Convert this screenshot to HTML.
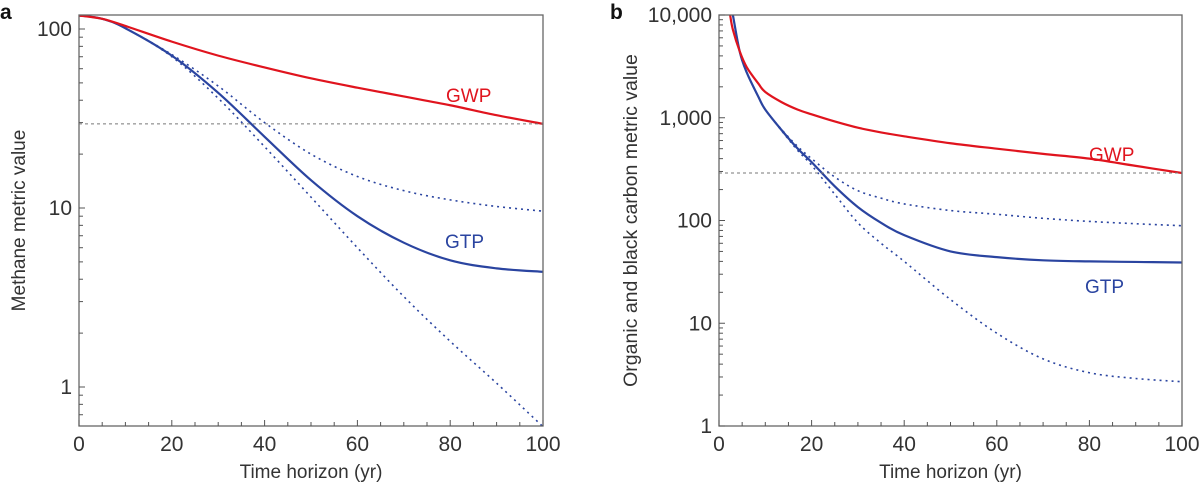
<!DOCTYPE html>
<html><head><meta charset="utf-8"><style>
body{margin:0;background:#fff;width:1200px;height:490px;overflow:hidden}
svg text{font-family:"Liberation Sans",sans-serif;fill:#333}
</style></head><body>
<svg id="c" width="1200" height="490"></svg>
<script>
// Panel a data (methane)
const aX=[0,5,10,20,30,40,50,60,70,80,90,100];
const aGWP=[119,114,104,85,71,61,53,47,42,37.5,33,29.5];
const aGTP=[119,114,101,71,44,25,14.3,9,6.4,5.1,4.6,4.4];
const aGTPhi=[119,114,101,72,48,30,20,15,12.5,11.1,10.2,9.6];
const aGTPlo=[119,114,101,70,41,22,11.5,6.0,3.2,1.8,1.05,0.6];
const aRef=29.5;
const aYTicks=[1,10,100];
// Panel b data (organic and black carbon)
const bX=[2.4,3,4.5,6,8.5,10,13.5,17,20,25,30,35,40,50,60,70,80,90,100];
const bGWP=[10000,7200,4400,3100,2150,1780,1420,1200,1080,920,800,720,660,565,500,445,400,340,290];
const bGTP=[14000,10000,4350,2750,1600,1200,760,500,370,215,135,95,72,50,44,41,40,39.5,39];
const bGTPhi=[14000,10000,4350,2750,1600,1200,770,525,400,265,195,165,145,125,115,105,98,93,89];
const bGTPlo=[14000,10000,4350,2750,1600,1200,750,480,345,180,95,60,40,17,8,4.5,3.3,2.9,2.7];
const bRef=290;
const bYTicks=[1,10,100,1000,10000];
const bYLabels=["1","10","100","1,000","10,000"];
const xTicks=[0,20,40,60,80,100];

const svg=document.getElementById('c');const NS='http://www.w3.org/2000/svg';
function el(t,a,p){const e=document.createElementNS(NS,t);for(const k in a)e.setAttribute(k,a[k]);(p||svg).appendChild(e);return e;}
function txt(x,y,s,a){const e=el('text',Object.assign({x:x,y:y},a));e.textContent=s;return e;}
function path(pts){let d='M'+pts[0][0]+','+pts[0][1];for(let i=0;i<pts.length-1;i++){const p0=pts[Math.max(0,i-1)],p1=pts[i],p2=pts[i+1],p3=pts[Math.min(pts.length-1,i+2)];
d+=' C'+(p1[0]+(p2[0]-p0[0])/6)+','+(p1[1]+(p2[1]-p0[1])/6)+' '+(p2[0]-(p3[0]-p1[0])/6)+','+(p2[1]-(p3[1]-p1[1])/6)+' '+p2[0]+','+p2[1];}return d;}

function panel(o){
  const cp=el('clipPath',{id:o.id});el('rect',{x:o.L,y:o.T,width:o.R-o.L,height:o.B-o.T},cp);
  const g=el('g',{'clip-path':'url(#'+o.id+')'});
  const sx=v=>o.L+(o.R-o.L)*v/100;
  const sy=v=>o.y0-(Math.log10(v)-o.l0)*o.dec;
  el('rect',{x:o.L,y:o.T,width:o.R-o.L,height:o.B-o.T,fill:'none',stroke:'#666','stroke-width':1.3});
  for(let v=0;v<=100;v+=5){const x=sx(v);el('line',{x1:x,x2:x,y1:o.B,y2:o.B-(v%20?4:6),stroke:'#555'});}
  xTicks.forEach(v=>{const t=txt(sx(v),451,v,{'text-anchor':'middle','font-size':21});});
  for(let e=-1;e<=4;e++)for(let m=1;m<10;m++){const v=m*Math.pow(10,e);const y=sy(v);if(y<o.T-0.5||y>o.B+0.5)continue;el('line',{x1:o.L,x2:o.L+(m==1?6:4),y1:y,y2:y,stroke:'#555'});}
  o.yt.forEach((v,i)=>{const t=txt(o.L-7,sy(v)+7,o.yl[i],{'text-anchor':'end','font-size':21});});
  const ref=el('line',{x1:o.L,x2:o.R,y1:sy(o.ref),y2:sy(o.ref),stroke:'#777','stroke-dasharray':'3,3','stroke-width':1});
  
  const mk=(ys,c,dash,name)=>{const p=el('path',{d:path(o.x.map((x,i)=>[sx(x),sy(ys[i])])),fill:'none',stroke:c,'stroke-width':dash?1.6:2.2,'stroke-dasharray':dash?'2,4':'none'},g);
    };
  mk(o.hi,'#2a44a0',true,'gtp-upper-bound');mk(o.lo,'#2a44a0',true,'gtp-lower-bound');
  mk(o.gtp,'#2a44a0',false,'gtp-line');mk(o.gwp,'#e0141e',false,'gwp-line');
  const xt=txt((o.L+o.R)/2,478,'Time horizon (yr)',{'text-anchor':'middle','font-size':19});
  const yt=txt(0,0,o.title,{'text-anchor':'middle','font-size':o.tfs,transform:'translate('+o.tx+','+((o.T+o.B)/2)+') rotate(-90)'});
  const l1=txt(o.gwpL[0],o.gwpL[1],'GWP',{'font-size':19,style:'fill:#e0141e'});
  const l2=txt(o.gtpL[0],o.gtpL[1],'GTP',{'font-size':19,style:'fill:#2a44a0'});
  const pl=txt(o.pl,19,o.letter,{'font-size':21,'font-weight':'bold',style:'fill:#111'});
}
panel({id:'ca',L:79,R:543,T:15,B:426,y0:387,l0:0,dec:179,x:aX,gwp:aGWP,gtp:aGTP,hi:aGTPhi,lo:aGTPlo,ref:aRef,yt:aYTicks,yl:["1","10","100"],title:'Methane metric value',tfs:19,tx:25,gwpL:[446,102],gtpL:[445,248],letter:'a',pl:0});
panel({id:'cb',L:719,R:1182,T:15,B:426,y0:426,l0:0,dec:102.75,x:bX,gwp:bGWP,gtp:bGTP,hi:bGTPhi,lo:bGTPlo,ref:bRef,yt:bYTicks,yl:bYLabels,title:'Organic and black carbon metric value',tfs:19.5,tx:637,gwpL:[1089,161],gtpL:[1085,293],letter:'b',pl:610});
</script>
</body></html>
